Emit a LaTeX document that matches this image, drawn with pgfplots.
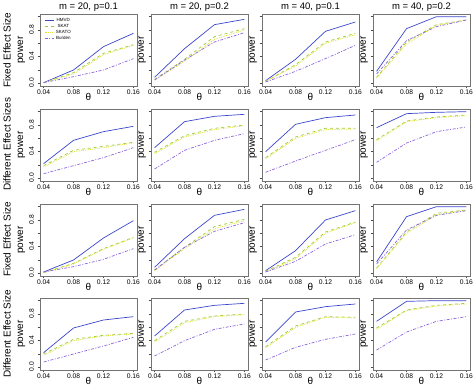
\documentclass[border=0pt]{standalone}
\usepackage{pgfplots}
\pgfplotsset{compat=1.18}
\usepackage{fontspec}
\setmainfont{Liberation Sans}
\definecolor{chmvd}{RGB}{60,70,205}
\definecolor{cskat}{RGB}{154,205,50}
\definecolor{cskato}{RGB}{225,225,60}
\definecolor{cburden}{RGB}{140,100,220}
\pgfplotsset{
  base/.style={
    scale only axis, width=97pt, height=72pt,
    anchor=south west,
    xmin=0.0352, xmax=0.1648, ymin=-0.04, ymax=1.04,
    xtick={0.04,0.08,0.12,0.16},
    xticklabels={0.04,0.08,0.12,0.16},
    ytick={0,0.2,0.4,0.6,0.8,1.0},
    yticklabels={},
    xtick pos=lower, ytick pos=left,
    tick align=outside,
    major tick length=2.5pt,
    axis line style={black!55},
    every tick/.style={black!70},
    /pgf/number format/assume math mode=true,
    tick label style={font=\fontsize{6.7}{8}\selectfont},
    xticklabel style={yshift=2pt},
    yticklabel style={rotate=90, anchor=south, xshift=0.5pt},
    xlabel={θ}, ylabel={power},
    label style={font=\fontsize{7.8}{9}\selectfont},
    every axis x label/.style={at={(axis description cs:0.5,-0.15)}, anchor=center},
    every axis y label/.style={at={(axis description cs:-0.09,0.5)}, rotate=90, anchor=center},
    every axis title/.style={at={(axis description cs:0.5,1)}, anchor=base, yshift=4pt, font=\fontsize{9.5}{10}\selectfont},
    clip=false,
  },
  firstcol/.style={
    yticklabels={0.0,,0.4,,0.8,},
    every axis y label/.style={at={(axis description cs:-0.19,0.5)}, rotate=90, anchor=center},
  },
  hmvd/.style={chmvd, line width=0.7pt, solid},
  skat/.style={cskat, line width=0.7pt, dashed},
  skato/.style={cskato, line width=0.8pt, densely dotted},
  burden/.style={cburden, line width=0.7pt, dash pattern=on 3pt off 1.5pt on 1pt off 1.5pt},
  legimg/.style={legend image code/.code={\draw[##1] (0pt,0pt) -- (9pt,0pt);}},
  firstleg/.style={
    legend entries={HMVD,SKAT,SKATO,Burden},
    legend style={at={(0.03,0.99)}, anchor=north west, draw=none, fill=none,
      font=\fontsize{4.5}{5}\selectfont, row sep=-2.5pt, inner sep=1pt},
    legimg},
}
\newcommand{\panel}[7]{%
\begin{axis}[base, at={(#1pt,#2pt)}, #3]
\addplot[hmvd] coordinates {#4};
\addplot[skat] coordinates {#5};
\addplot[skato] coordinates {#6};
\addplot[burden] coordinates {#7};
\end{axis}}
\begin{document}
\begin{tikzpicture}
\path[use as bounding box] (0pt,0pt) rectangle (474pt,387pt);
% ---------- Row 1 ----------
\panel{40}{301}{firstcol, title={m = 20, p=0.1}, firstleg}
  {(0.04,0.01)(0.08,0.20)(0.12,0.55)(0.16,0.75)}
  {(0.04,0.01)(0.08,0.16)(0.12,0.45)(0.16,0.58)}
  {(0.04,0.01)(0.08,0.14)(0.12,0.43)(0.16,0.57)}
  {(0.04,0.01)(0.08,0.10)(0.12,0.20)(0.16,0.37)}
\panel{151}{301}{title={m = 20, p=0.2}}
  {(0.04,0.09)(0.08,0.52)(0.12,0.88)(0.16,0.96)}
  {(0.04,0.06)(0.08,0.36)(0.12,0.70)(0.16,0.82)}
  {(0.04,0.05)(0.08,0.33)(0.12,0.66)(0.16,0.80)}
  {(0.04,0.05)(0.08,0.35)(0.12,0.62)(0.16,0.76)}
\panel{262}{301}{title={m = 40, p=0.1}}
  {(0.04,0.04)(0.08,0.36)(0.12,0.78)(0.16,0.92)}
  {(0.04,0.03)(0.08,0.28)(0.12,0.62)(0.16,0.75)}
  {(0.04,0.03)(0.08,0.26)(0.12,0.60)(0.16,0.73)}
  {(0.04,0.02)(0.08,0.18)(0.12,0.37)(0.16,0.57)}
\panel{373}{301}{title={m = 40, p=0.2}}
  {(0.04,0.18)(0.08,0.82)(0.12,1.00)(0.16,1.00)}
  {(0.04,0.09)(0.08,0.62)(0.12,0.88)(0.16,0.95)}
  {(0.04,0.08)(0.08,0.59)(0.12,0.87)(0.16,0.95)}
  {(0.04,0.14)(0.08,0.64)(0.12,0.85)(0.16,0.95)}
% ---------- Row 2 ----------
\panel{40}{206}{firstcol}
  {(0.04,0.22)(0.08,0.57)(0.12,0.70)(0.16,0.78)}
  {(0.04,0.19)(0.08,0.42)(0.12,0.48)(0.16,0.54)}
  {(0.04,0.17)(0.08,0.40)(0.12,0.46)(0.16,0.53)}
  {(0.04,0.07)(0.08,0.19)(0.12,0.31)(0.16,0.46)}
\panel{151}{206}{}
  {(0.04,0.46)(0.08,0.85)(0.12,0.93)(0.16,0.96)}
  {(0.04,0.39)(0.08,0.64)(0.12,0.75)(0.16,0.80)}
  {(0.04,0.37)(0.08,0.62)(0.12,0.73)(0.16,0.79)}
  {(0.04,0.14)(0.08,0.42)(0.12,0.57)(0.16,0.67)}
\panel{262}{206}{}
  {(0.04,0.40)(0.08,0.81)(0.12,0.91)(0.16,0.95)}
  {(0.04,0.31)(0.08,0.62)(0.12,0.75)(0.16,0.75)}
  {(0.04,0.29)(0.08,0.60)(0.12,0.73)(0.16,0.74)}
  {(0.04,0.09)(0.08,0.26)(0.12,0.42)(0.16,0.58)}
\panel{373}{206}{}
  {(0.04,0.76)(0.08,0.97)(0.12,0.99)(0.16,1.00)}
  {(0.04,0.58)(0.08,0.86)(0.12,0.92)(0.16,0.95)}
  {(0.04,0.56)(0.08,0.85)(0.12,0.91)(0.16,0.94)}
  {(0.04,0.24)(0.08,0.53)(0.12,0.70)(0.16,0.77)}
% ---------- Row 3 ----------
\panel{40}{111}{firstcol}
  {(0.04,0.02)(0.08,0.20)(0.12,0.53)(0.16,0.79)}
  {(0.04,0.01)(0.08,0.15)(0.12,0.37)(0.16,0.54)}
  {(0.04,0.01)(0.08,0.14)(0.12,0.36)(0.16,0.53)}
  {(0.04,0.02)(0.08,0.10)(0.12,0.21)(0.16,0.37)}
\panel{151}{111}{}
  {(0.04,0.09)(0.08,0.52)(0.12,0.87)(0.16,0.96)}
  {(0.04,0.05)(0.08,0.39)(0.12,0.70)(0.16,0.81)}
  {(0.04,0.04)(0.08,0.37)(0.12,0.67)(0.16,0.79)}
  {(0.04,0.05)(0.08,0.39)(0.12,0.63)(0.16,0.76)}
\panel{262}{111}{}
  {(0.04,0.04)(0.08,0.34)(0.12,0.80)(0.16,0.94)}
  {(0.04,0.03)(0.08,0.24)(0.12,0.62)(0.16,0.77)}
  {(0.04,0.02)(0.08,0.22)(0.12,0.60)(0.16,0.76)}
  {(0.04,0.02)(0.08,0.18)(0.12,0.44)(0.16,0.58)}
\panel{373}{111}{}
  {(0.04,0.17)(0.08,0.85)(0.12,1.00)(0.16,1.00)}
  {(0.04,0.08)(0.08,0.62)(0.12,0.90)(0.16,0.95)}
  {(0.04,0.07)(0.08,0.60)(0.12,0.88)(0.16,0.95)}
  {(0.04,0.14)(0.08,0.65)(0.12,0.87)(0.16,0.94)}
% ---------- Row 4 ----------
\panel{40}{17}{firstcol}
  {(0.04,0.22)(0.08,0.59)(0.12,0.71)(0.16,0.76)}
  {(0.04,0.20)(0.08,0.42)(0.12,0.48)(0.16,0.51)}
  {(0.04,0.18)(0.08,0.40)(0.12,0.47)(0.16,0.50)}
  {(0.04,0.08)(0.08,0.20)(0.12,0.32)(0.16,0.45)}
\panel{151}{17}{}
  {(0.04,0.47)(0.08,0.86)(0.12,0.93)(0.16,0.96)}
  {(0.04,0.40)(0.08,0.69)(0.12,0.77)(0.16,0.80)}
  {(0.04,0.38)(0.08,0.67)(0.12,0.76)(0.16,0.79)}
  {(0.04,0.17)(0.08,0.40)(0.12,0.57)(0.16,0.65)}
\panel{262}{17}{}
  {(0.04,0.38)(0.08,0.83)(0.12,0.91)(0.16,0.95)}
  {(0.04,0.31)(0.08,0.62)(0.12,0.76)(0.16,0.75)}
  {(0.04,0.29)(0.08,0.60)(0.12,0.75)(0.16,0.74)}
  {(0.04,0.11)(0.08,0.30)(0.12,0.42)(0.16,0.50)}
\panel{373}{17}{}
  {(0.04,0.69)(0.08,0.99)(0.12,1.00)(0.16,1.00)}
  {(0.04,0.59)(0.08,0.86)(0.12,0.93)(0.16,0.96)}
  {(0.04,0.57)(0.08,0.85)(0.12,0.92)(0.16,0.95)}
  {(0.04,0.26)(0.08,0.53)(0.12,0.69)(0.16,0.76)}
% ---------- Row labels ----------
\node[rotate=90, font=\fontsize{10}{11}\selectfont] at (7pt,337pt) {Fixed Effect Size};
\node[rotate=90, font=\fontsize{10}{11}\selectfont] at (7pt,242.5pt) {Different Effect Sizes};
\node[rotate=90, font=\fontsize{10}{11}\selectfont] at (7pt,147.5pt) {Fixed Effect Size};
\node[rotate=90, font=\fontsize{10}{11}\selectfont] at (7pt,53pt) {Different Effect Size};
\end{tikzpicture}
\end{document}
